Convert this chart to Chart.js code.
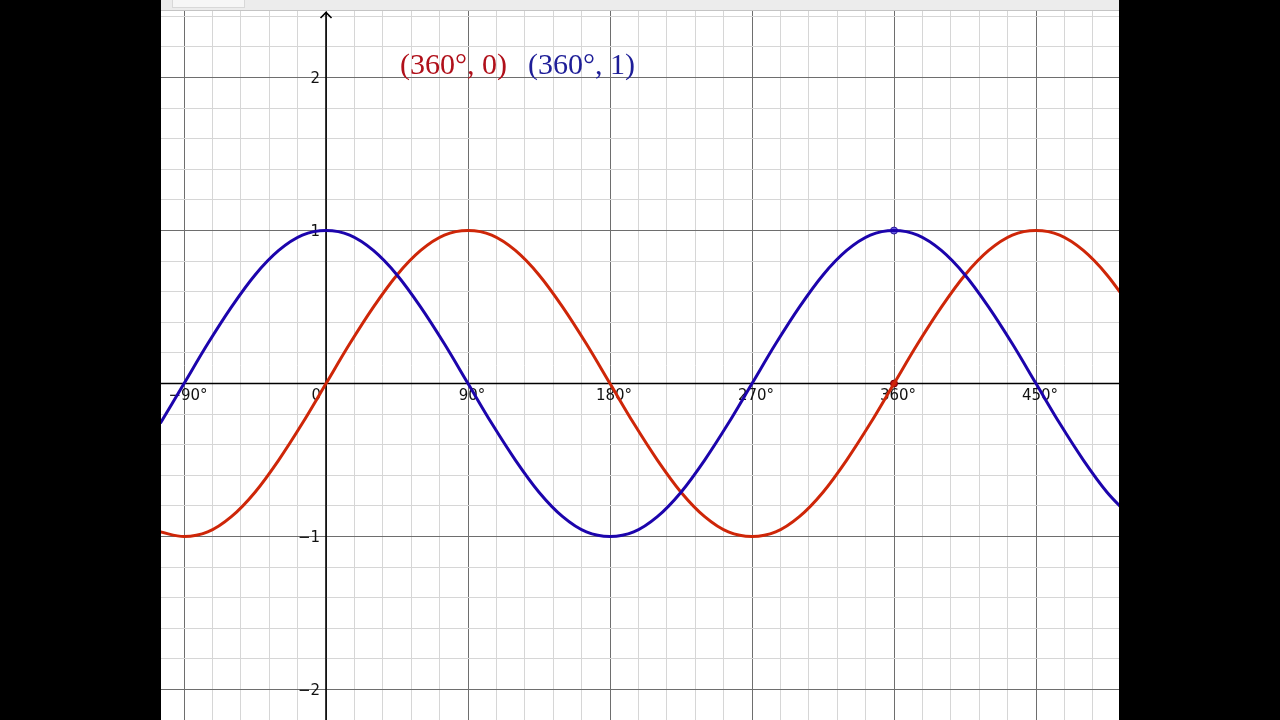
<!DOCTYPE html>
<html>
<head>
<meta charset="utf-8">
<script src="https://cdn.jsdelivr.net/npm/chart.js@4.4.1/dist/chart.umd.min.js"></script>
<style>
  html, body { margin: 0; padding: 0; background: #000; width: 1280px; height: 720px; overflow: hidden; }
  .sheet { position: absolute; left: 161px; top: 0; width: 958px; height: 720px; background: #fff; }
  .toolbar { position: absolute; left: 0; top: 0; width: 958px; height: 10px; background: #ececec; border-bottom: 1px solid #c4c4c4; }
  .tab { position: absolute; left: 11px; top: 0; width: 71px; height: 7px; background: #f6f6f6; border: 1px solid #d8d8d8; border-top: none; }
  .js-graph { position: absolute; left: 0; top: 11px; }
</style>
</head>
<body>
<div class="sheet">
  <div class="toolbar"><div class="tab"></div></div>
  <canvas class="js-graph" id="graph" width="958" height="709"></canvas>
</div>
<script>
// angles in degrees, sampled every 15°
const angles = [-105, -90, -75, -60, -45, -30, -15, 0, 15, 30, 45, 60, 75, 90, 105, 120, 135, 150, 165, 180,
  195, 210, 225, 240, 255, 270, 285, 300, 315, 330, 345, 360, 375, 390, 405, 420, 435, 450, 465, 480, 495, 510];

// red curve (sin)
const redValues = [-0.97, -1, -0.97, -0.87, -0.71, -0.5, -0.26, 0, 0.26, 0.5, 0.71, 0.87, 0.97, 1, 0.97, 0.87, 0.71, 0.5, 0.26, 0,
  -0.26, -0.5, -0.71, -0.87, -0.97, -1, -0.97, -0.87, -0.71, -0.5, -0.26, 0, 0.26, 0.5, 0.71, 0.87, 0.97, 1, 0.97, 0.87, 0.71, 0.5];

// blue curve (cos)
const blueValues = [-0.26, 0, 0.26, 0.5, 0.71, 0.87, 0.97, 1, 0.97, 0.87, 0.71, 0.5, 0.26, 0, -0.26, -0.5, -0.71, -0.87, -0.97, -1,
  -0.97, -0.87, -0.71, -0.5, -0.26, 0, 0.26, 0.5, 0.71, 0.87, 0.97, 1, 0.97, 0.87, 0.71, 0.5, 0.26, 0, -0.26, -0.5, -0.71, -0.87];

const redPoint = [{ x: 360, y: 0 }];
const bluePoint = [{ x: 360, y: 1 }];

const xTickValues = [-90, 0, 90, 180, 270, 360, 450];
const xTickLabels = ['\u221290°', '0', '90°', '180°', '270°', '360°', '450°'];
const yTickValues = [2, 1, -1, -2];
const yTickLabels = ['2', '1', '\u22121', '\u22122'];

const pointLabels = ['(360°, 0)', '(360°, 1)'];

const RED = 'rgb(206,38,8)';
const BLUE = 'rgb(28,4,172)';

const makeGrid = function (min, max, step) {
  let out = [];
  let start = Math.ceil(min / step);
  let end = Math.floor(max / step);
  for (let i = start; i <= end; i++) {
    out.push({ value: Math.round(i * step * 1000) / 1000 });
  }
  return out;
};

const isMajorX = v => Math.abs(v % 90) < 1e-6;
const isMajorY = v => Math.abs(v - Math.round(v)) < 1e-6;

const axesPlugin = {
  id: 'axes',
  beforeDatasetsDraw(chart) {
    const ctx = chart.ctx;
    const xs = chart.scales.x, ys = chart.scales.y;
    const area = chart.chartArea;
    const ox = xs.getPixelForValue(0);
    const oy = ys.getPixelForValue(0);
    ctx.save();
    ctx.strokeStyle = '#000';
    ctx.lineWidth = 1.6;
    ctx.beginPath();
    ctx.moveTo(area.left, oy); ctx.lineTo(area.right, oy);
    ctx.moveTo(ox, area.bottom); ctx.lineTo(ox, area.top + 1);
    ctx.stroke();
    // arrow on y axis
    ctx.beginPath();
    ctx.moveTo(ox - 5.5, area.top + 7);
    ctx.lineTo(ox, area.top + 1.5);
    ctx.lineTo(ox + 5.5, area.top + 7);
    ctx.stroke();

    ctx.fillStyle = '#111';
    ctx.font = '15px "DejaVu Sans"';
    ctx.textBaseline = 'middle';
    xTickValues.forEach(function (v, i) {
      const px = xs.getPixelForValue(v);
      if (v === 0) {
        ctx.textAlign = 'right';
        ctx.fillText(xTickLabels[i], px - 5, oy + 13);
      } else {
        ctx.textAlign = 'center';
        ctx.fillText(xTickLabels[i], px + 4, oy + 13);
      }
    });
    ctx.textAlign = 'right';
    yTickValues.forEach(function (v, i) {
      ctx.fillText(yTickLabels[i], ox - 6, ys.getPixelForValue(v) + 2);
    });
    ctx.restore();
  },
  afterDraw(chart) {
    const ctx = chart.ctx;
    ctx.save();
    ctx.font = '30px "Liberation Serif"';
    ctx.textBaseline = 'middle';
    ctx.textAlign = 'left';
    ctx.fillStyle = '#b0101a';
    ctx.fillText(pointLabels[0], 239, 55);
    ctx.fillStyle = '#1e1e98';
    ctx.fillText(pointLabels[1], 367, 55);
    ctx.restore();
  }
};

const drawGraph = function () {
  let ctx = document.getElementById('graph').getContext('2d');
  let config = {
    type: 'line',
    data: {
      datasets: [
        {
          data: angles.map((a, i) => ({ x: a, y: blueValues[i] })),
          borderColor: BLUE,
          borderWidth: 3,
          pointRadius: 0,
          cubicInterpolationMode: 'monotone',
          fill: false
        },
        {
          data: angles.map((a, i) => ({ x: a, y: redValues[i] })),
          borderColor: RED,
          borderWidth: 3,
          pointRadius: 0,
          cubicInterpolationMode: 'monotone',
          fill: false
        },
        {
          data: redPoint,
          showLine: false,
          pointRadius: 3.5,
          pointBackgroundColor: '#c41414',
          pointBorderColor: '#7a0000',
          pointBorderWidth: 1
        },
        {
          data: bluePoint,
          showLine: false,
          pointRadius: 3.5,
          pointBackgroundColor: '#6a5ee0',
          pointBorderColor: '#2a1a9a',
          pointBorderWidth: 1
        }
      ]
    },
    options: {
      responsive: false,
      animation: false,
      layout: { padding: 0, autoPadding: false },
      scales: {
        x: {
          type: 'linear',
          min: -104.6,
          max: 502.6,
          afterBuildTicks: s => { s.ticks = makeGrid(s.min, s.max, 18); },
          grid: {
            drawTicks: false,
            color: c => isMajorX(c.tick.value) ? '#6e6e6e' : '#d6d6d6',
            lineWidth: 1
          },
          border: { display: false },
          ticks: { display: false }
        },
        y: {
          type: 'linear',
          min: -2.199,
          max: 2.435,
          afterBuildTicks: s => { s.ticks = makeGrid(s.min, s.max, 0.2); },
          grid: {
            drawTicks: false,
            color: c => isMajorY(c.tick.value) ? '#6e6e6e' : '#d6d6d6',
            lineWidth: 1
          },
          border: { display: false },
          ticks: { display: false }
        }
      },
      plugins: {
        legend: { display: false },
        title: { display: false },
        tooltip: { enabled: false }
      }
    },
    plugins: [axesPlugin]
  };
  let myGraph = new Chart(ctx, config);
};

document.addEventListener('DOMContentLoaded', function () {
  drawGraph();
});
</script>
</body>
</html>
